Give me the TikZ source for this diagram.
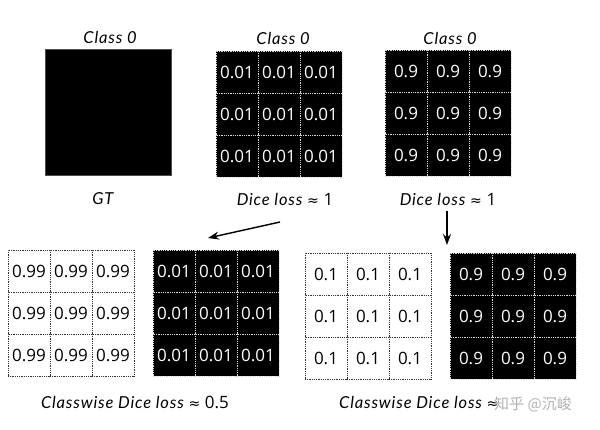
\documentclass[tikz,border=0pt]{standalone}
\usepackage{fontspec}
\setmainfont{Open Sans}
\newfontfamily\hand{Lato}[LetterSpace=5]
\newfontfamily\symf{DejaVu Sans}
\newfontfamily\cjk{Noto Sans CJK SC}
\usetikzlibrary{arrows.meta}
\tikzset{
  cellw/.style={draw=black!80, densely dotted, line width=0.8pt, fill=white, text=black,
     minimum size=42pt, inner sep=0pt, font=\fontsize{17}{17}\selectfont},
  cellb/.style={draw=white!85!black, densely dotted, line width=0.8pt, fill=black, text=white,
     minimum size=42pt, inner sep=0pt, font=\fontsize{17}{17}\selectfont},
  lbl/.style={font=\hand\itshape\fontsize{16.5}{16.5}\selectfont, inner sep=1pt},
  arr/.style={-{Stealth[length=11pt,width=8pt]}, line width=1.4pt},
}
\newcommand\mygrid[5]{% name, x, y, style, value
  \foreach \i in {0,1,2}{\foreach \j in {0,1,2}{
    \node[#4] (#1-\i-\j) at ({#2+21+42*\i},{#3+21+42*\j}) {#5};
  }}
}
\newcommand\approxs{{\symf\fontsize{14}{14}\selectfont ≈}}
\newcommand\num[1]{{\rmfamily\upshape\fontsize{17}{17}\selectfont #1}}
\begin{document}
\begin{tikzpicture}[x=1pt,y=-1pt]
\useasboundingbox[fill=white] (0,0) rectangle (600,429);
% GT
\node[fill=black, draw=black!70, minimum width=126pt, minimum height=126pt, inner sep=0pt] (gt) at (108,112) {};
\node[lbl] (cls1) at (110,37) {Class 0};
\node[lbl] (gtl) at (103,199) {GT};
% top middle
\mygrid{tm}{216}{51}{cellb}{0.01}
\node[lbl] (cls2) at (283,38) {Class 0};
\node[lbl] (dl1) at (285,199) {Dice loss \approxs{} \num{1}};
% top right
\mygrid{tr}{385}{50}{cellb}{0.9}
\node[lbl] (cls3) at (450,38) {Class 0};
\node[lbl] (dl2) at (448,199) {Dice loss \approxs{} \num{1}};
% bottom left
\mygrid{blw}{8}{250}{cellw}{0.99}
\mygrid{blb}{153}{250}{cellb}{0.01}
\node[lbl] (cw1) at (135,402) {Classwise Dice loss \approxs{} \num{0.5}};
% bottom right
\mygrid{brw}{305}{253}{cellw}{0.1}
\mygrid{brb}{450}{253}{cellb}{0.9}
\node[lbl, anchor=west] (cw2) at (338,402) {Classwise Dice loss \approxs};
\node[anchor=west, text=black!30, font=\cjk\fontsize{15}{15}\selectfont, inner sep=0pt] (wm) at (494,404) {知乎 @沉峻};
% arrows
\coordinate (a1s) at (280,222);
\coordinate (a1e) at (208,238);
\coordinate (a2s) at (447,211);
\coordinate (a2e) at (447,245);
\draw[arr] (a1s) -- (a1e);
\draw[arr] (a2s) -- (a2e);
\end{tikzpicture}
\end{document}
